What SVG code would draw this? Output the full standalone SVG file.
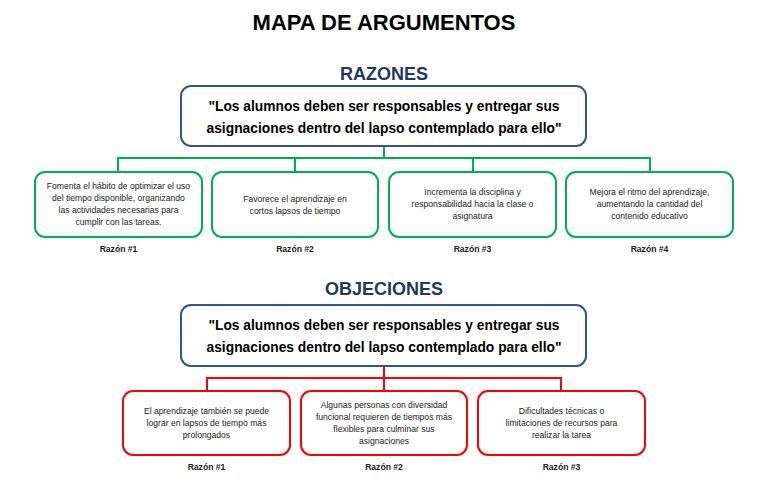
<svg xmlns="http://www.w3.org/2000/svg" width="768" height="488" viewBox="0 0 768 488">
<style>
text{font-family:"Liberation Sans",Arial,sans-serif;text-anchor:middle}
.t{font-size:22px;font-weight:bold;fill:#000}
.h{font-size:18px;font-weight:bold;fill:#1f3864}
.m{font-size:15px;font-weight:bold;fill:#000}
.s{font-size:8.6px;fill:#222}
.l{font-size:8.6px;font-weight:bold;fill:#222}
.mb{fill:#fff;stroke:#2f5597;stroke-width:2}
.gb{fill:#fff;stroke:#00b050;stroke-width:2}
.rb{fill:#fff;stroke:#ff0000;stroke-width:2}
.gc{fill:none;stroke:#00b050;stroke-width:2}
.rc{fill:none;stroke:#ff0000;stroke-width:2}
</style>
<rect width="768" height="488" fill="#fff"/>
<text class="t" x="384" y="30">MAPA DE ARGUMENTOS</text>
<text class="h" x="384" y="80">RAZONES</text>
<text class="h" x="384" y="295">OBJECIONES</text>
<g id="connectors">
<path class="gc" d="M384 146V158M118 172V158H650V172M295 158V172M473 158V172"/>
<path class="rc" d="M384 366V378M207 392V378H561V392M384 378V392"/>
</g>
<g id="main1"><rect class="mb" x="181" y="86" width="405" height="60" rx="10"/>
<text class="m" x="384" y="111" textLength="351" lengthAdjust="spacingAndGlyphs">"Los alumnos deben ser responsables y entregar sus</text>
<text class="m" x="384" y="133" textLength="355" lengthAdjust="spacingAndGlyphs">asignaciones dentro del lapso contemplado para ello"</text></g>
<g id="r1"><rect class="gb" x="35" y="172" width="167" height="65" rx="10"/>
<text class="s" x="118.5" y="189">Fomenta el hábito de optimizar el uso</text><text class="s" x="118.5" y="201">del tiempo disponible, organizando</text><text class="s" x="118.5" y="213">las actividades necesarias para</text><text class="s" x="118.5" y="225">cumplir con las tareas.</text>
<text class="l" x="118.5" y="252">Razón #1</text></g>
<g id="r2"><rect class="gb" x="212" y="172" width="166" height="65" rx="10"/>
<text class="s" x="295" y="202">Favorece el aprendizaje en</text><text class="s" x="295" y="214">cortos lapsos de tiempo</text>
<text class="l" x="295" y="252">Razón #2</text></g>
<g id="r3"><rect class="gb" x="389" y="172" width="167" height="65" rx="10"/>
<text class="s" x="472.5" y="195">Incrementa la disciplina y</text><text class="s" x="472.5" y="207">responsabilidad hacia la clase o</text><text class="s" x="472.5" y="219">asignatura</text>
<text class="l" x="472.5" y="252">Razón #3</text></g>
<g id="r4"><rect class="gb" x="566" y="172" width="167" height="65" rx="10"/>
<text class="s" x="649.5" y="195">Mejora el ritmo del aprendizaje,</text><text class="s" x="649.5" y="207">aumentando la cantidad del</text><text class="s" x="649.5" y="219">contenido educativo</text>
<text class="l" x="649.5" y="252">Razón #4</text></g>
<g id="main2"><rect class="mb" x="181" y="305" width="405" height="61" rx="10"/>
<text class="m" x="384" y="330" textLength="351" lengthAdjust="spacingAndGlyphs">"Los alumnos deben ser responsables y entregar sus</text>
<text class="m" x="384" y="352" textLength="355" lengthAdjust="spacingAndGlyphs">asignaciones dentro del lapso contemplado para ello"</text></g>
<g id="o1"><rect class="rb" x="123" y="391" width="167" height="64" rx="10"/>
<text class="s" x="206.5" y="414">El aprendizaje también se puede</text><text class="s" x="206.5" y="426">lograr en lapsos de tiempo más</text><text class="s" x="206.5" y="438">prolongados</text>
<text class="l" x="206.5" y="470">Razón #1</text></g>
<g id="o2"><rect class="rb" x="301" y="391" width="166" height="64" rx="10"/>
<text class="s" x="384" y="408">Algunas personas con diversidad</text><text class="s" x="384" y="420">funcional requieren de tiempos más</text><text class="s" x="384" y="432">flexibles para culminar sus</text><text class="s" x="384" y="444">asignaciones</text>
<text class="l" x="384" y="470">Razón #2</text></g>
<g id="o3"><rect class="rb" x="478" y="391" width="167" height="64" rx="10"/>
<text class="s" x="561.5" y="414">Dificultades técnicas o</text><text class="s" x="561.5" y="426">limitaciones de recursos para</text><text class="s" x="561.5" y="438">realizar la tarea</text>
<text class="l" x="561.5" y="470">Razón #3</text></g>
</svg>
